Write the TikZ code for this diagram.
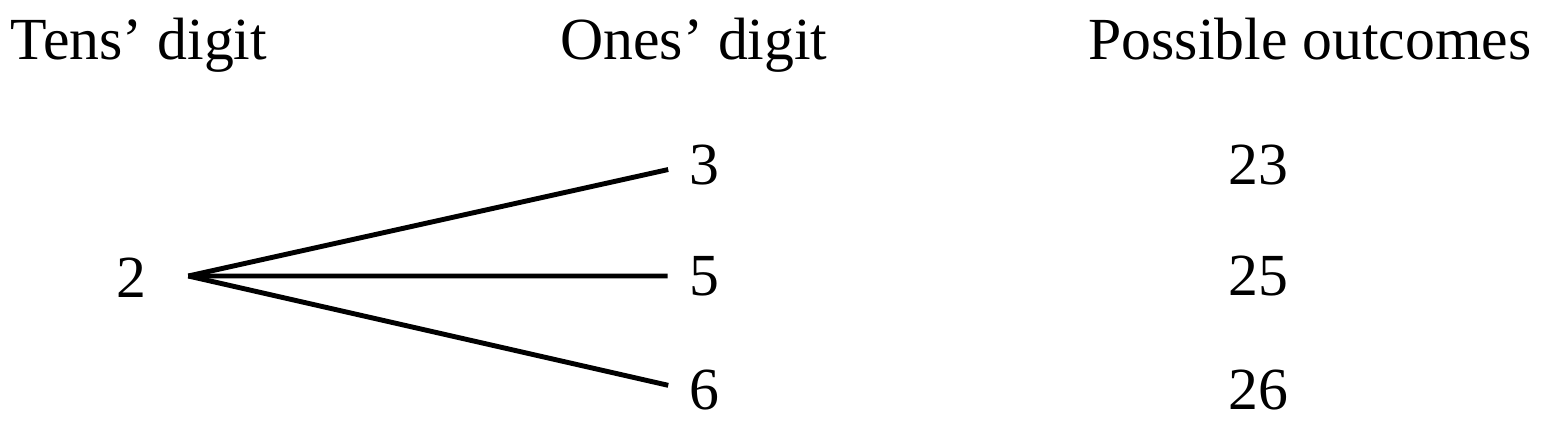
\documentclass[tikz,border=0pt]{standalone}
\usepackage{fontspec}
\setmainfont{Liberation Serif}
\usepackage{tikz}

\begin{document}
\begin{tikzpicture}[x=0.02cm,y=-0.02cm,font=\fontsize{34}{40}\selectfont]
    \useasboundingbox (0,0) rectangle (1543,428);
    \node[anchor=base] (tens) at (139,60) {Tens' digit};
    \node[anchor=base] (ones) at (694,60) {Ones' digit};
    \node[anchor=base] (outcomes) at (1310,60) {Possible outcomes};
    \node[inner sep=0] (two) at (131,278) {2};
    \coordinate (fork) at ([xshift=0.84cm,yshift=0.04cm]two.east);
    \foreach \d/\o/\y in {3/23/165,5/25/276,6/26/390}
    {
      \node[inner sep=0] (one\d) at (704,\y) {\d};
      \node[inner sep=0] (out\d) at (1258,\y) {\o};
      \draw[line width=2.8pt,shorten >=0.42cm] (fork) to (one\d.west);
    }
  \end{tikzpicture}
\end{document}
